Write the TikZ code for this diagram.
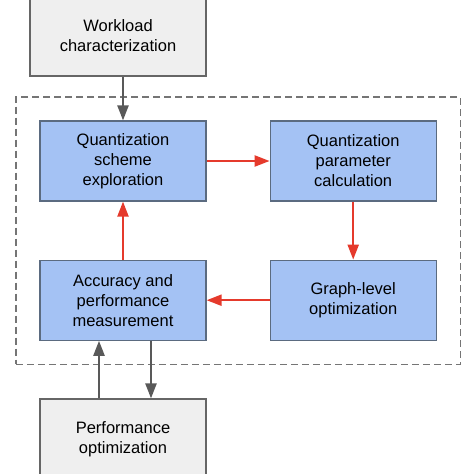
\documentclass[tikz,border=0pt]{standalone}
\usepackage{fontspec}
\setmainfont{Liberation Sans}
\usetikzlibrary{arrows.meta,calc,fit,positioning}

\definecolor{stepblue}{HTML}{A4C2F4}
\definecolor{stepedge}{HTML}{5B6B80}
\definecolor{extgray}{HTML}{EFEFEF}
\definecolor{extedge}{HTML}{666666}
\definecolor{flowred}{HTML}{E53A2C}
\definecolor{flowgray}{HTML}{595959}

\begin{document}
\begin{tikzpicture}[
  x=1pt, y=-1pt,
  node distance=58pt and 63pt,
  font=\fontsize{16.5}{20}\selectfont,
  stage/.style={draw=stepedge, line width=1.2pt, fill=stepblue, minimum width=166pt, minimum height=80pt, align=center, inner sep=0pt},
  ext/.style={draw=extedge, line width=1.2pt, fill=extgray, minimum width=176pt, minimum height=80pt, align=center, inner sep=0pt},
  loop/.style={-{Triangle[length=15pt,width=11pt]}, line width=2.2pt, flowred},
  io/.style={-{Triangle[length=15pt,width=11pt]}, line width=2.4pt, flowgray}
]
\useasboundingbox (0,0) rectangle (474,474);
\clip (0,0) rectangle (474,474);

\node[stage] (scheme) at (123,161) {Quantization\\scheme\\exploration};
\node[stage, right=of scheme] (param) {Quantization\\parameter\\calculation};
\node[stage, below=of param] (graph) {Graph-level\\optimization};
\node[stage, below=of scheme] (acc) {Accuracy and\\performance\\measurement};
\node[ext] (work) at (118,36) {Workload\\characterization};
\node[ext, minimum width=166pt] (perf) at (123,439) {Performance\\optimization};

% tuning loop
\node[draw=extedge!90, line width=1.3pt, dash pattern=on 7pt off 4pt, inner sep=23.5pt, fit=(scheme) (param) (graph) (acc)] (loopbox) {};

\draw[io] (work.south -| scheme.north) -- (scheme.north);
\draw[loop] (scheme) -- (param);
\draw[loop] (param.south) -- (graph.north);
\draw[loop] (graph) -- (acc);
\draw[loop] (acc.north) -- (scheme.south);
\draw[io] ($(perf.north)+(-24,0)$) -- ($(acc.south)+(-24,0)$);
\draw[io] ($(acc.south)+(28,0)$) -- ($(perf.north)+(28,0)$);
\end{tikzpicture}
\end{document}
